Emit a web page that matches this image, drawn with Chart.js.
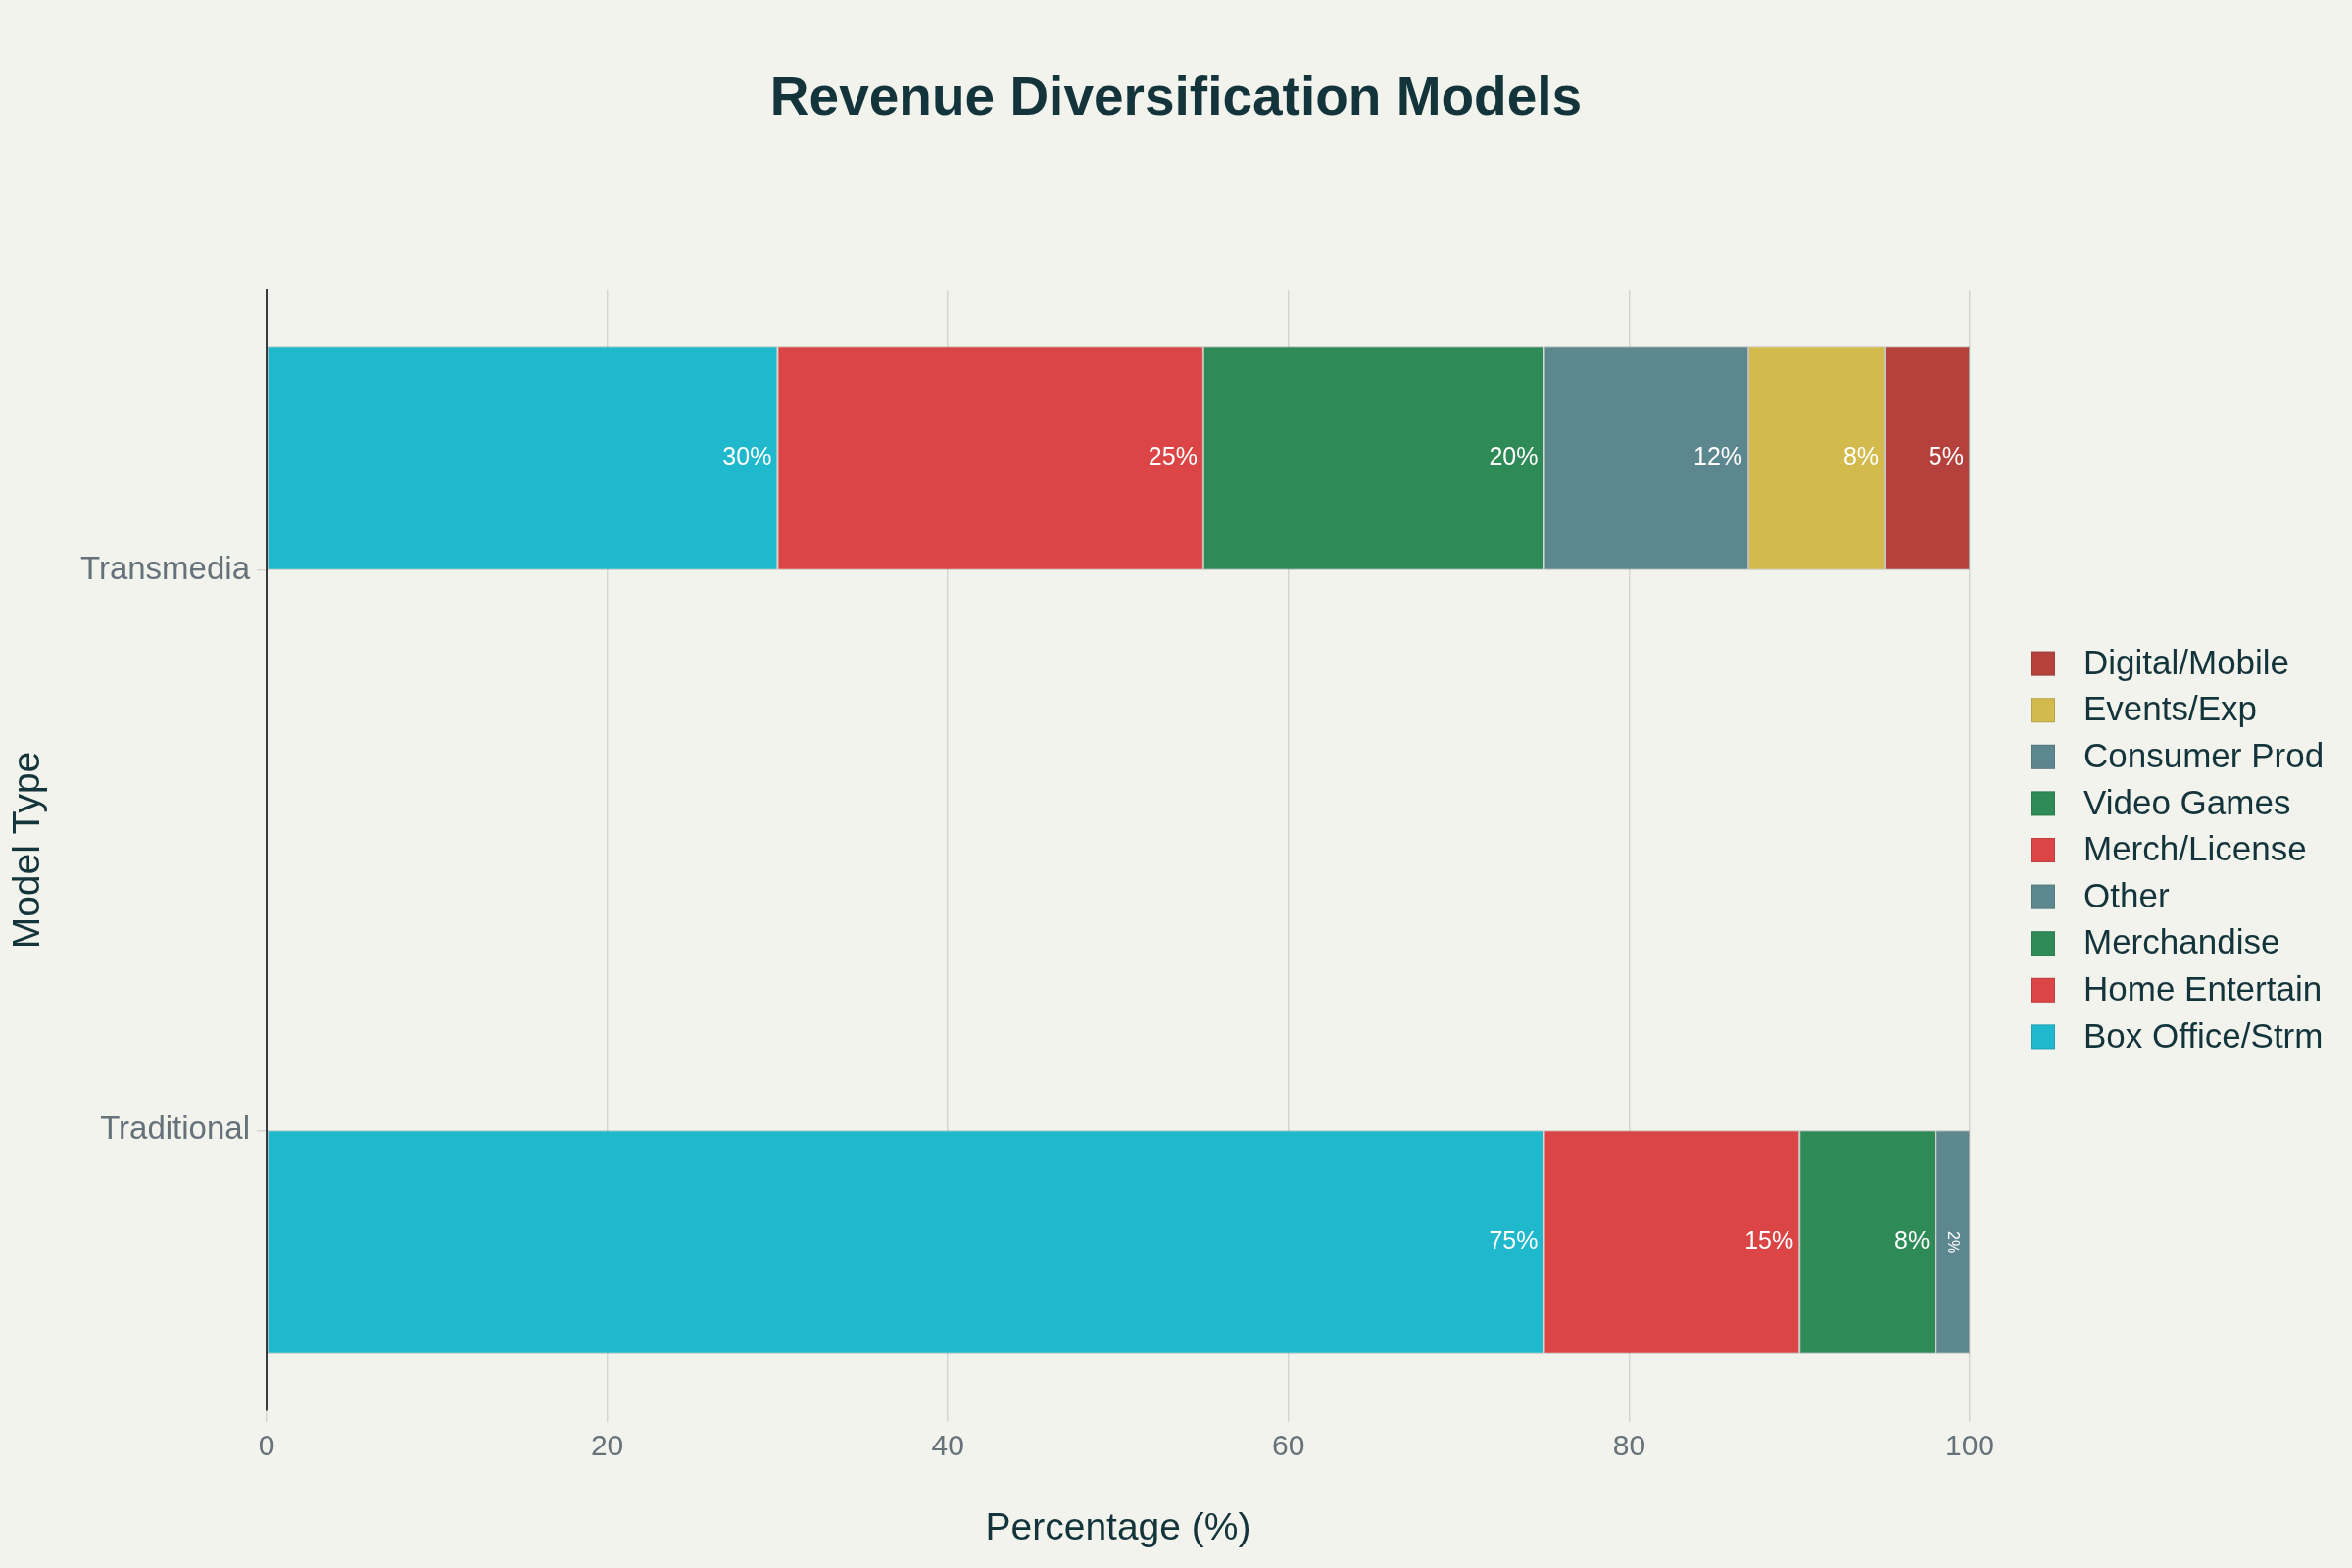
<!DOCTYPE html>
<html>
<head>
<meta charset="utf-8">
<title>Revenue Diversification Models</title>
<script src="https://cdn.jsdelivr.net/npm/chart.js@4.4.1/dist/chart.umd.min.js"></script>
<style>
  html, body { margin: 0; padding: 0; background: #F3F3EE; }
  #wrap { width: 2400px; height: 1600px; }
</style>
</head>
<body>
<div id="wrap"><canvas id="revenue-chart" width="2400" height="1600"></canvas></div>
<script>
// Chart data
const models = ['Transmedia', 'Traditional'];
const transmediaStreams = ['Box Office/Strm', 'Merch/License', 'Video Games', 'Consumer Prod', 'Events/Exp', 'Digital/Mobile'];
const transmediaShares = [30, 25, 20, 12, 8, 5];
const traditionalStreams = ['Box Office/Strm', 'Home Entertain', 'Merchandise', 'Other'];
const traditionalShares = [75, 15, 8, 2];
const legendOrder = ['Digital/Mobile', 'Events/Exp', 'Consumer Prod', 'Video Games', 'Merch/License', 'Other', 'Merchandise', 'Home Entertain', 'Box Office/Strm'];
const xTicks = [0, 20, 40, 60, 80, 100];
const chartTitle = 'Revenue Diversification Models';

const streamColors = {
    'Box Office/Strm': '#1FB8CD',
    'Home Entertain': '#DB4545',
    'Merchandise': '#2E8B57',
    'Other': '#5D878F',
    'Merch/License': '#DB4545',
    'Video Games': '#2E8B57',
    'Consumer Prod': '#5D878F',
    'Events/Exp': '#D2BA4C',
    'Digital/Mobile': '#B4413C'
};

const FONT = '"Liberation Sans", Arial, Helvetica, sans-serif';
const DARK = '#13343B';
const GREY = '#65727A';

// one dataset per stream, each model gets its own stack slot
function buildDatasets(streams, shares, modelIndex, stack) {
    return streams.map(function (name, i) {
        return {
            label: name,
            data: models.map(function (m, j) { return j === modelIndex ? shares[i] : null; }),
            stack: stack,
            backgroundColor: streamColors[name],
            borderColor: 'rgba(60, 60, 60, 0.3)',
            borderWidth: 1,
            borderSkipped: false,
            categoryPercentage: 0.8,
            barPercentage: 1.0
        };
    });
}

const datasets = buildDatasets(transmediaStreams, transmediaShares, 0, 'transmedia')
    .concat(buildDatasets(traditionalStreams, traditionalShares, 1, 'traditional'));

const background = {
    id: 'background',
    beforeDraw(chart) {
        const ctx = chart.ctx;
        ctx.save();
        ctx.fillStyle = '#F3F3EE';
        ctx.fillRect(0, 0, chart.width, chart.height);
        ctx.restore();
    }
};

// title centred on the whole canvas (legend space included)
const pageTitle = {
    id: 'pageTitle',
    afterDraw(chart) {
        const ctx = chart.ctx;
        ctx.save();
        ctx.font = 'bold 55px ' + FONT;
        ctx.fillStyle = DARK;
        ctx.textAlign = 'center';
        ctx.textBaseline = 'middle';
        ctx.fillText(chartTitle, chart.width / 2, 102);
        ctx.restore();
    }
};

// percentage text inside the end of each segment
const barLabels = {
    id: 'barLabels',
    afterDatasetsDraw(chart) {
        const ctx = chart.ctx;
        chart.data.datasets.forEach(function (ds, di) {
            const meta = chart.getDatasetMeta(di);
            meta.data.forEach(function (bar, i) {
                const v = ds.data[i];
                if (v === null || v === undefined) return;
                const p = bar.getProps(['x', 'y', 'base'], true);
                const left = Math.min(p.x, p.base);
                const right = Math.max(p.x, p.base);
                const width = right - left;
                const text = v + '%';
                ctx.save();
                ctx.fillStyle = '#FFFFFF';
                ctx.font = '25px ' + FONT;
                const tw = ctx.measureText(text).width;
                if (tw + 12 <= width) {
                    ctx.textAlign = 'right';
                    ctx.textBaseline = 'middle';
                    ctx.fillText(text, right - 6, p.y);
                } else {
                    ctx.font = Math.floor(width * 0.47) + 'px ' + FONT;
                    ctx.translate((left + right) / 2, p.y);
                    ctx.rotate(Math.PI / 2);
                    ctx.textAlign = 'center';
                    ctx.textBaseline = 'middle';
                    ctx.fillText(text, 0, 0);
                }
                ctx.restore();
            });
        });
    }
};

// legend on the right, reversed trace order
const sideLegend = {
    id: 'sideLegend',
    afterDraw(chart) {
        const ctx = chart.ctx;
        const area = chart.chartArea;
        const step = 47.6;
        const mid = (area.top + area.bottom) / 2;
        const y0 = mid - step * (legendOrder.length - 1) / 2;
        const boxX = area.right + 62;
        ctx.save();
        ctx.font = '35px ' + FONT;
        ctx.textBaseline = 'middle';
        ctx.textAlign = 'left';
        legendOrder.forEach(function (name, i) {
            const y = y0 + i * step;
            ctx.fillStyle = streamColors[name];
            ctx.fillRect(boxX, y - 12.5, 25, 25);
            ctx.strokeStyle = 'rgba(40, 40, 40, 0.15)';
            ctx.lineWidth = 1;
            ctx.strokeRect(boxX + 0.5, y - 12, 24, 24);
            ctx.fillStyle = DARK;
            ctx.fillText(name, boxX + 54, y + 1);
        });
        ctx.restore();
    }
};

new Chart(document.getElementById('revenue-chart'), {
    type: 'bar',
    data: {
        labels: models,
        datasets: datasets
    },
    plugins: [background, barLabels, sideLegend, pageTitle],
    options: {
        indexAxis: 'y',
        responsive: false,
        animation: false,
        devicePixelRatio: 1,
        layout: {
            padding: { top: 296, left: 0, right: 390, bottom: 0 }
        },
        plugins: {
            legend: { display: false },
            tooltip: { enabled: false },
            title: { display: false }
        },
        scales: {
            x: {
                stacked: true,
                min: 0,
                max: 100,
                afterBuildTicks: function (scale) {
                    scale.ticks = xTicks.map(function (v) { return { value: v }; });
                },
                afterFit: function (scale) { scale.height = 161; },
                grid: {
                    color: '#D6D6D1',
                    lineWidth: 1.5,
                    tickLength: 12,
                    drawTicks: true
                },
                border: { display: false },
                ticks: {
                    color: GREY,
                    font: { family: FONT, size: 30 },
                    padding: 8,
                    maxRotation: 0
                },
                title: {
                    display: true,
                    text: 'Percentage (%)',
                    color: DARK,
                    font: { family: FONT, size: 39 },
                    padding: { top: 33, bottom: 16 }
                }
            },
            y: {
                stacked: true,
                afterFit: function (scale) { scale.width = 272; },
                grid: {
                    offset: false,
                    drawOnChartArea: false,
                    drawTicks: true,
                    tickLength: 10,
                    color: '#D6D6D1',
                    lineWidth: 1.5
                },
                border: { display: true, color: '#3A3A3A', width: 2 },
                ticks: {
                    color: GREY,
                    font: { family: FONT, size: 33 },
                    padding: 7
                },
                title: {
                    display: true,
                    text: 'Model Type',
                    color: DARK,
                    font: { family: FONT, size: 39 },
                    padding: { top: 6, bottom: 0 }
                }
            }
        }
    }
});
</script>
</body>
</html>
